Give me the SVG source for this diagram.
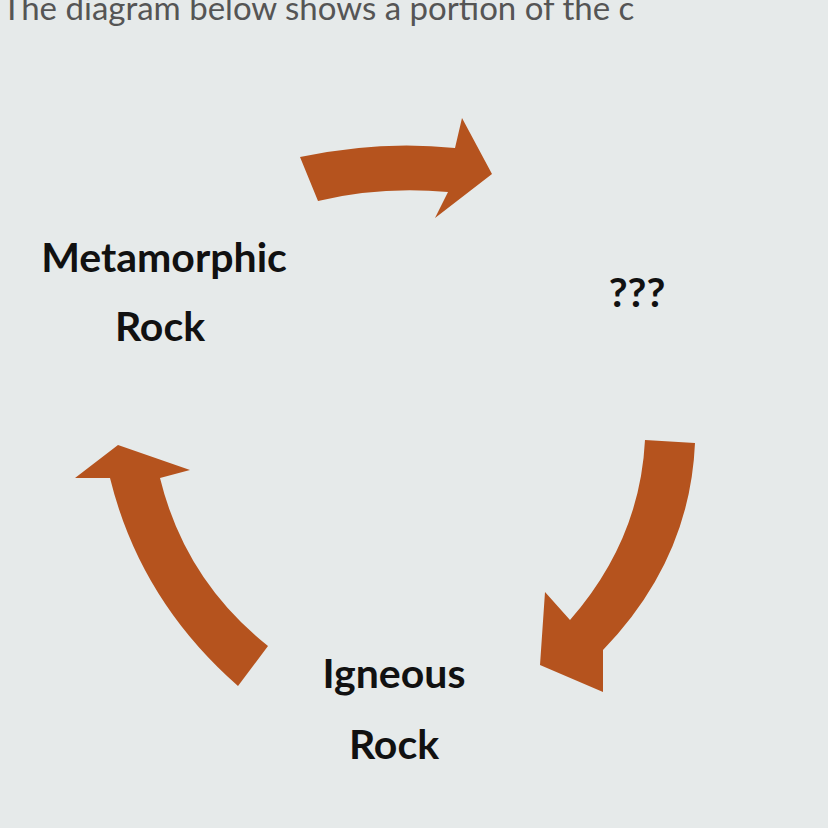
<svg xmlns="http://www.w3.org/2000/svg" width="828" height="828" viewBox="0 0 828 828">
<style>
.arr{fill:#b5531e}
.lbl{font-family:"Lato","Open Sans",sans-serif;font-weight:bold;font-size:41px;fill:#111;text-anchor:middle}
.top{font-family:"Lato","Open Sans",sans-serif;font-size:33px;fill:#555}
</style>
<rect width="828" height="828" fill="#e6eaea"/>
<text class="top" x="2" y="20">The diagram below shows a portion of the c</text>
<g id="connectors">
<path class="arr" d="M300,157 Q380,140 455,148 L462,118 L492,174 L435,218 L448,192 Q380,186 318,201 Z"/>
<path class="arr" d="M645,440 L695,443 Q690,560 603,650 L603,692 L540,665 L545,592 L570,620 Q640,540 645,440 Z"/>
<path class="arr" d="M238,686 Q140,600 110,478 L75,478 L118,445 L190,470 L160,478 Q185,580 268,646 Z"/>
</g>
<g id="metamorphic"><text class="lbl" x="164" y="272">Metamorphic</text><text class="lbl" x="160" y="341">Rock</text></g>
<g id="unknown"><text class="lbl" x="637" y="307">???</text></g>
<g id="igneous"><text class="lbl" x="394" y="688">Igneous</text><text class="lbl" x="394" y="759">Rock</text></g>
</svg>
